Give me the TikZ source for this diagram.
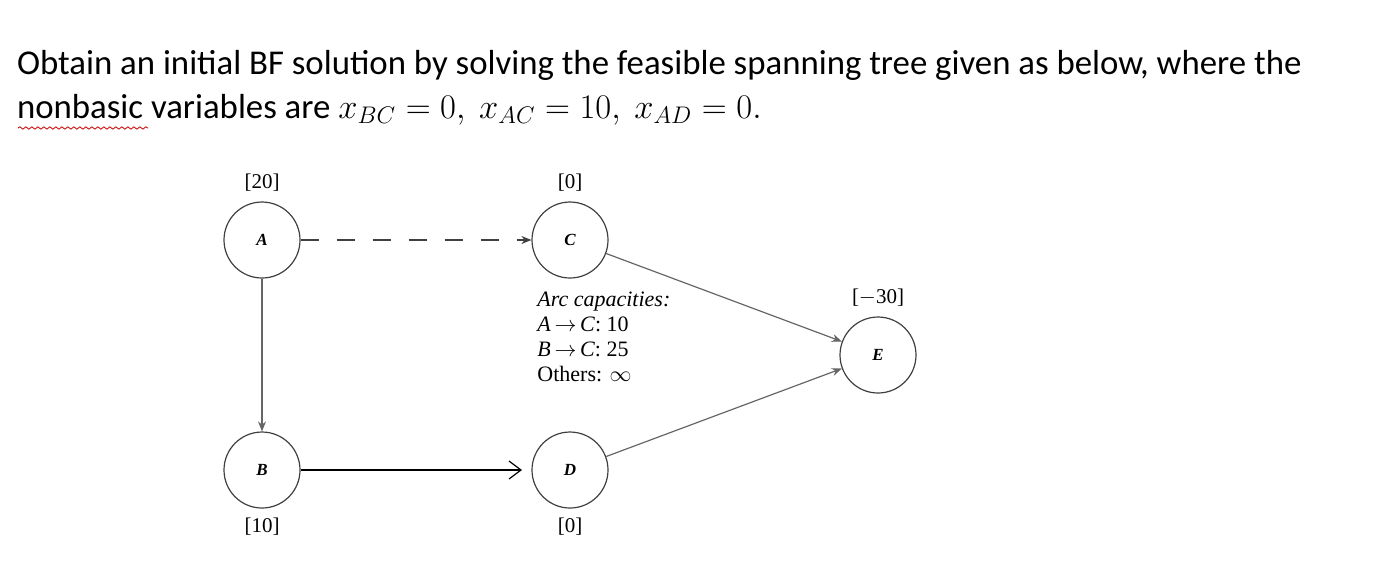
\documentclass[tikz,border=0pt]{standalone}
\usepackage{fontspec}
\setmainfont{Carlito}
\newfontfamily\tms{Liberation Serif}
\usetikzlibrary{arrows.meta,decorations.pathmorphing}
\begin{document}
\begin{tikzpicture}[x=0.5pt,y=-0.5pt,
  nd/.style={circle,draw=black!75,line width=0.6pt,minimum size=38pt,inner sep=0pt,font=\tms\bfseries\itshape\fontsize{8.5}{9}\selectfont},
  lab/.style={font=\tms\fontsize{10.5}{11}\selectfont},
  gr/.style={draw=black!60,line width=0.6pt,-{Stealth[length=5pt,width=4pt]}}]
\useasboundingbox (0,0) rectangle (1375,575);
\node[anchor=west,font=\fontsize{17.4}{20}\selectfont] (t1) at (10,65) {Obtain an initial BF solution by solving the feasible spanning tree given as below, where the};
\node[anchor=west,font=\fontsize{17.4}{20}\selectfont] (t2) at (10,110) {nonbasic variables are $x_{BC}=0,\ x_{AC}=10,\ x_{AD}=0.$};
\draw[red!80!black,line width=0.4pt,decorate,decoration={snake,amplitude=0.6pt,segment length=3pt}] (18,128) -- (148,128);
\node[nd] (A) at (262,240) {A};
\node[nd] (C) at (570,240) {C};
\node[nd] (E) at (878,355) {E};
\node[nd] (B) at (262,470) {B};
\node[nd] (D) at (570,470) {D};
\node[lab] (la) at (262,183) {[20]};
\node[lab] (lc) at (570,183) {[0]};
\node[lab] (le) at (878,298) {[$-$30]};
\node[lab] (lb) at (262,527) {[10]};
\node[lab] (ld) at (570,527) {[0]};
\node[lab,anchor=north west,align=left,inner sep=0pt,font=\tms\fontsize{11}{12.5}\selectfont] (cap) at (537,292)
 {\textit{Arc capacities:}\\ \textit{A}\,$\rightarrow$\,\textit{C}: 10\\ \textit{B}\,$\rightarrow$\,\textit{C}: 25\\ Others: $\infty$};
\draw[black!75,line width=0.8pt,dashed,dash pattern=on 9pt off 9pt,-{Stealth[length=5pt,width=4pt]}] (A) -- (C);
\draw[gr] (A) -- (B);
\draw[gr] (C) -- (E);
\draw[gr] (D) -- (E);
\coordinate (dt) at (522,470);
\draw[black,line width=1pt,-{Straight Barb[length=6pt,width=9pt,line width=0.6pt]}] (B) -- (dt);
\end{tikzpicture}
\end{document}
